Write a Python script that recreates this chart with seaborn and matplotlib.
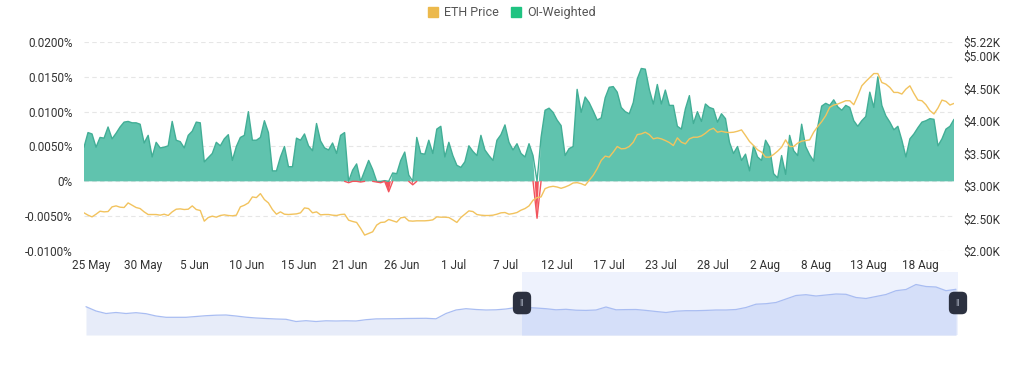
import numpy as np
import pandas as pd
import seaborn as sns
import matplotlib.pyplot as plt
from matplotlib.patches import Patch, Rectangle
from matplotlib.ticker import FuncFormatter, FixedLocator

# OI-weighted funding rate, % per interval
funding = [
    0.0049, 0.0070, 0.0068, 0.0049, 0.0063, 0.0062, 0.0078, 0.0061, 0.0069, 0.0078,
    0.0085, 0.0086, 0.0084, 0.0084, 0.0082, 0.0055, 0.0066, 0.0035, 0.0056, 0.0048,
    0.0049, 0.0051, 0.0086, 0.0059, 0.0057, 0.0048, 0.0066, 0.0072, 0.0085, 0.0084,
    0.0028, 0.0034, 0.0040, 0.0056, 0.0051, 0.0061, 0.0067, 0.0030, 0.0050, 0.0063,
    0.0066, 0.0100, 0.0059, 0.0059, 0.0063, 0.0087, 0.0070, 0.0015, 0.0015, 0.0035,
    0.0050, 0.0021, 0.0021, 0.0062, 0.0059, 0.0068,
    0.0051, 0.0044, 0.0083, 0.0058, 0.0048, 0.0045, 0.0055, 0.0040, 0.0066, 0.0070,
    -0.0002, 0.0016, 0.0025, -0.0001, 0.0015, 0.0030, 0.0017, -0.0001, -0.0002, 0.0001,
    -0.0015, 0.0012, 0.0011, 0.0030, 0.0042, 0.0009, -0.0005, 0.0063, 0.0040, 0.0039,
    0.0059, 0.0040, 0.0075, 0.0079, 0.0035, 0.0056, 0.0037, 0.0023, 0.0020, 0.0028,
    0.0051, 0.0043, 0.0037, 0.0066, 0.0045, 0.0037, 0.0030, 0.0059, 0.0067, 0.0081,
    0.0056, 0.0045, 0.0054, 0.0040, 0.0035,
    0.0054, 0.0037, -0.0053, 0.0063, 0.0102, 0.0105, 0.0099, 0.0088, 0.0080, 0.0037,
    0.0047, 0.0050, 0.0132, 0.0099, 0.0121, 0.0113, 0.0101, 0.0088, 0.0091, 0.0120,
    0.0135, 0.0136, 0.0128, 0.0106, 0.0100, 0.0097, 0.0113, 0.0147, 0.0162, 0.0161,
    0.0132, 0.0111, 0.0139, 0.0111, 0.0131, 0.0109, 0.0109, 0.0079, 0.0075, 0.0104,
    0.0123, 0.0083, 0.0100, 0.0086, 0.0111, 0.0106, 0.0104, 0.0085, 0.0097, 0.0090,
    0.0056, 0.0040, 0.0050, 0.0030, 0.0039,
    0.0015, 0.0051, 0.0035, 0.0030, 0.0059, 0.0049, 0.0011, 0.0005, 0.0037, 0.0010,
    0.0066, 0.0044, 0.0037, 0.0082, 0.0050, 0.0038, 0.0029, 0.0078, 0.0108, 0.0112,
    0.0109, 0.0117, 0.0107, 0.0102, 0.0109, 0.0106, 0.0087, 0.0079, 0.0087, 0.0093,
    0.0128, 0.0106, 0.0150, 0.0109, 0.0094, 0.0085, 0.0074, 0.0079, 0.0059, 0.0035,
    0.0061, 0.0068, 0.0077, 0.0085, 0.0087, 0.0090, 0.0089, 0.0051, 0.0061, 0.0075,
    0.0079, 0.0089,
]

# ETH price, USD
eth_price = [
    2588, 2552, 2526, 2567, 2613, 2603, 2608, 2680, 2695, 2675,
    2670, 2741, 2705, 2670, 2654, 2603, 2562, 2562, 2562, 2552,
    2567, 2547, 2603, 2644, 2649, 2639, 2644, 2695, 2639, 2624,
    2460, 2516, 2537, 2521, 2547, 2557, 2547, 2542, 2552, 2680,
    2705, 2741, 2833, 2823, 2884, 2792, 2741, 2639, 2567, 2603,
    2567, 2562, 2567, 2572, 2588, 2664,
    2654, 2588, 2603, 2557, 2562, 2562, 2552, 2547, 2562, 2567,
    2475, 2455, 2440, 2348, 2245, 2271, 2296, 2399, 2440, 2445,
    2486, 2465, 2445, 2511, 2521, 2465, 2460, 2465, 2465, 2465,
    2470, 2480, 2526, 2521, 2521, 2516, 2480, 2440, 2516, 2567,
    2618, 2608, 2562, 2552, 2547, 2547, 2552, 2567, 2588, 2593,
    2567, 2577, 2593, 2629, 2654,
    2695, 2782, 2823, 2833, 2961, 2986, 2997, 2986, 2966, 2986,
    3012, 3048, 3053, 3038, 3012, 3089, 3165, 3268, 3395, 3462,
    3446, 3523, 3610, 3574, 3579, 3610, 3676, 3794, 3804, 3830,
    3794, 3728, 3743, 3728, 3702, 3671, 3625, 3743, 3676, 3651,
    3728, 3753, 3753, 3773, 3814, 3866, 3891, 3830, 3845, 3830,
    3825, 3830, 3845, 3866, 3779,
    3687, 3625, 3559, 3523, 3446, 3446, 3487, 3538, 3600, 3712,
    3610, 3610, 3661, 3692, 3702, 3712, 3830, 3917, 3993, 4085,
    4213, 4249, 4264, 4290, 4315, 4315, 4254, 4392, 4545, 4612,
    4673, 4734, 4734, 4596, 4571, 4520, 4443, 4443, 4418, 4494,
    4545, 4428, 4325, 4315, 4254, 4162, 4111, 4203, 4325, 4305,
    4249, 4274,
]

date_labels = ["25 May", "30 May", "5 Jun", "10 Jun", "15 Jun", "21 Jun", "26 Jun",
               "1 Jul", "7 Jul", "12 Jul", "17 Jul", "23 Jul", "28 Jul", "2 Aug",
               "8 Aug", "13 Aug", "18 Aug"]

# overview strip (relative level)
nav_level = [
    28.3, 24.0, 21.5, 22.5, 21.5, 22.3, 21.3, 19.0, 17.7, 17.7,
    17.7, 18.5, 19.3, 19.8, 20.0, 19.0, 17.8, 17.0, 16.5, 16.0,
    15.7, 13.5, 14.3, 13.5, 14.2, 14.0, 14.2, 14.0, 15.3, 16.1,
    16.2, 16.3, 16.5, 16.6, 16.7, 16.2, 21.5, 25.0, 26.3, 25.5,
    25.0, 25.2, 26.0, 27.5, 27.5, 27.0, 26.3, 25.2, 25.7, 24.8,
    24.6, 25.0, 28.0, 25.2, 25.4, 25.5, 24.6, 23.5, 22.5, 23.8,
    24.3, 24.3, 24.6, 25.0, 25.0, 25.5, 27.5, 30.8, 31.3, 32.5,
    36.0, 39.5, 40.3, 39.0, 40.0, 41.0, 40.7, 37.5, 36.5, 38.5,
    40.5, 44.3, 45.5, 50.5, 48.5, 48.0, 44.3, 45.7,
]

GREEN = "#60c3ae"
GREEN_EDGE = "#42ae96"
RED = "#f2545d"
GOLD = "#f2c35e"
TXT = "#333333"

sns.set_theme(style="white")
plt.rcParams["font.family"] = ["Roboto", "DejaVu Sans"]

df = pd.DataFrame({"idx": np.arange(len(funding)), "funding": funding, "price": eth_price})
x = df["idx"].to_numpy()
f = df["funding"].to_numpy()

fig = plt.figure(figsize=(10.24, 3.66), dpi=100)
ax = fig.add_axes([84 / 1024, 1 - 251 / 366, 870 / 1024, 209 / 366])
ax2 = ax.twinx()

ax.fill_between(x, f, 0, where=f >= 0, interpolate=True, color=GREEN, lw=0)
ax.fill_between(x, f, 0, where=f <= 0, interpolate=True, color=RED, lw=0)
df["pos"] = np.maximum(f, 0)
sns.lineplot(data=df, x="idx", y="pos", ax=ax, color=GREEN_EDGE, lw=1)
# red outline only around the negative dips (NaN breaks the line)
near_neg = (f < 0) | (np.roll(f, 1) < 0) | (np.roll(f, -1) < 0)
ax.plot(x, np.where(near_neg, np.minimum(f, 0), np.nan), color=RED, lw=1)

sns.lineplot(data=df, x="idx", y="price", ax=ax2, color=GOLD, lw=1)

ax.set_xlim(0, len(funding) - 1)
ax.set_ylim(-0.01, 0.02)
ax.yaxis.set_major_locator(FixedLocator([-0.01, -0.005, 0, 0.005, 0.01, 0.015, 0.02]))
ax.yaxis.set_major_formatter(FuncFormatter(lambda v, p: "0%" if abs(v) < 1e-9 else f"{v:.4f}%"))
ax.grid(axis="y", color="#e6e6e6", ls=(0, (4, 3)), lw=0.8)
ax.set_axisbelow(True)

ax2.set_ylim(2000, 5220)
ax2.yaxis.set_major_locator(FixedLocator([2000, 2500, 3000, 3500, 4000, 4500, 5000, 5220]))
ax2.yaxis.set_major_formatter(FuncFormatter(lambda v, p: f"${v / 1000:.2f}K"))
ax2.grid(False)

ax.set_xticks(np.linspace(1.75, 208.5, len(date_labels)))
ax.set_xticklabels(date_labels)

for a in (ax, ax2):
    a.set_xlabel("")
    a.set_ylabel("")
    for s in a.spines.values():
        s.set_visible(False)
    a.tick_params(length=0, labelsize=8.5, colors=TXT)
ax.tick_params(axis="y", pad=8)
ax2.tick_params(axis="y", pad=7)
ax.tick_params(axis="x", pad=6)

# overview / zoom strip
nav = fig.add_axes([85 / 1024, 1 - 335 / 366, 873 / 1024, 63 / 366])
nx = np.arange(len(nav_level))
nl = np.array(nav_level)
sel, end = 43.6, 87.2
nav.set_xlim(-0.1, end)
nav.set_ylim(0, 63)
nav.axvspan(sel, end, color="#eef2fd", lw=0)
nav.fill_between(nx, nl, 0, color="#e7ecf9", lw=0)
dark = nav.fill_between(nx, nl, 0, color="#d5dff9", lw=0)
dark.set_clip_path(Rectangle((sel, 0), end - sel, 63, transform=nav.transData))
nav.plot(nx, nl, color="#a9bdf2", lw=0.9)
for hx in (sel, end):
    nav.text(hx, 32, "II", ha="center", va="center", fontsize=6.5, color="#9ca3b2",
             clip_on=False,
             bbox=dict(boxstyle="round,pad=0.75,rounding_size=0.6", fc="#2c3140", ec="none"))
nav.axis("off")

fig.legend(handles=[Patch(color="#ecb94c", label="ETH Price"),
                    Patch(color="#1fc381", label="OI-Weighted")],
           loc="center", bbox_to_anchor=(0.5, 0.965), ncol=2, frameon=False,
           handlelength=0.8, handleheight=0.8, handletextpad=0.5, columnspacing=1.0,
           fontsize=9, labelcolor="#555555")

fig.savefig("out.png", dpi=100)
